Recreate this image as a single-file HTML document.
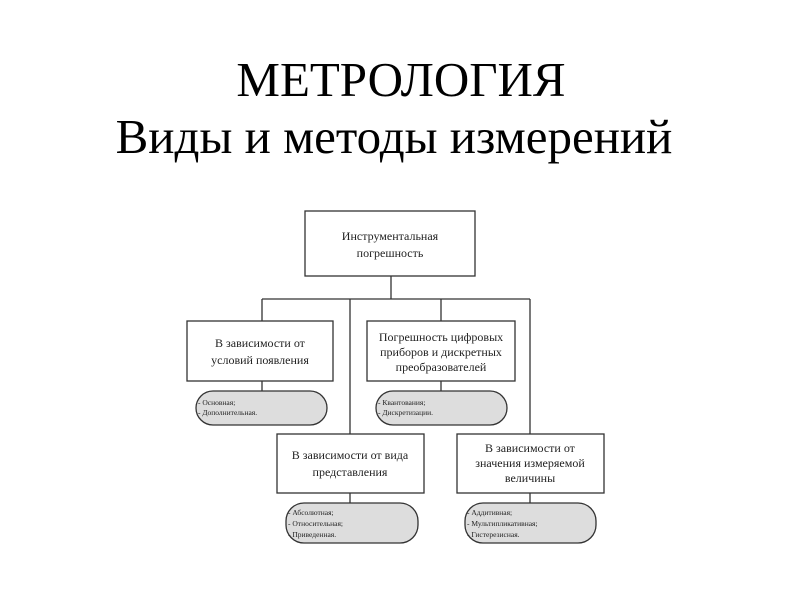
<!DOCTYPE html>
<html><head><meta charset="utf-8"><style>
body{margin:0;width:800px;height:600px;background:#fff;overflow:hidden;font-family:"Liberation Serif",serif;}
</style></head><body>
<svg width="800" height="600" xmlns="http://www.w3.org/2000/svg" font-family="Liberation Serif, serif">
<text x="401" y="96" font-size="49" text-anchor="middle" fill="#000">МЕТРОЛОГИЯ</text>
<text x="394" y="153" font-size="49" text-anchor="middle" fill="#000">Виды и методы измерений</text>
<g stroke="#333" stroke-width="1.3" fill="none">
<line x1="391" y1="276" x2="391" y2="299"/>
<line x1="262" y1="299" x2="530" y2="299"/>
<line x1="262" y1="299" x2="262" y2="391"/>
<line x1="441" y1="299" x2="441" y2="391"/>
<line x1="350" y1="299" x2="350" y2="503"/>
<line x1="530" y1="299" x2="530" y2="503"/>
</g>
<g stroke="#333" stroke-width="1.3" fill="#fff">
<rect x="305" y="211" width="170" height="65"/>
<rect x="187" y="321" width="146" height="60"/>
<rect x="367" y="321" width="148" height="60"/>
<rect x="277" y="434" width="147" height="59"/>
<rect x="457" y="434" width="147" height="59"/>
</g>
<g stroke="#333" stroke-width="1.3" fill="#ddd">
<rect x="196" y="391" width="131" height="34" rx="17"/>
<rect x="376" y="391" width="131" height="34" rx="17"/>
<rect x="286" y="503" width="132" height="40" rx="18"/>
<rect x="465" y="503" width="131" height="40" rx="18"/>
</g>
<g font-size="12" fill="#222" text-anchor="middle">
<text x="390" y="240">Инструментальная</text>
<text x="390" y="257">погрешность</text>
<text x="260" y="347">В зависимости от</text>
<text x="260" y="364">условий появления</text>
<text x="441" y="341">Погрешность цифровых</text>
<text x="441" y="356">приборов и дискретных</text>
<text x="441" y="371">преобразователей</text>
<text x="350" y="459">В зависимости от вида</text>
<text x="350" y="476">представления</text>
<text x="530" y="452">В зависимости от</text>
<text x="530" y="467">значения измеряемой</text>
<text x="530" y="482">величины</text>
</g>
<g font-size="7.5" fill="#222">
<text x="198" y="405">- Основная;</text>
<text x="198" y="415">- Дополнительная.</text>
<text x="378" y="405">- Квантования;</text>
<text x="378" y="415">- Дискретизации.</text>
<text x="288" y="515">- Абсолютная;</text>
<text x="288" y="526">- Относительная;</text>
<text x="288" y="537">- Приведенная.</text>
<text x="467" y="515">- Аддитивная;</text>
<text x="467" y="526">- Мультипликативная;</text>
<text x="467" y="537">- Гистерезисная.</text>
</g>
</svg>
</body></html>
